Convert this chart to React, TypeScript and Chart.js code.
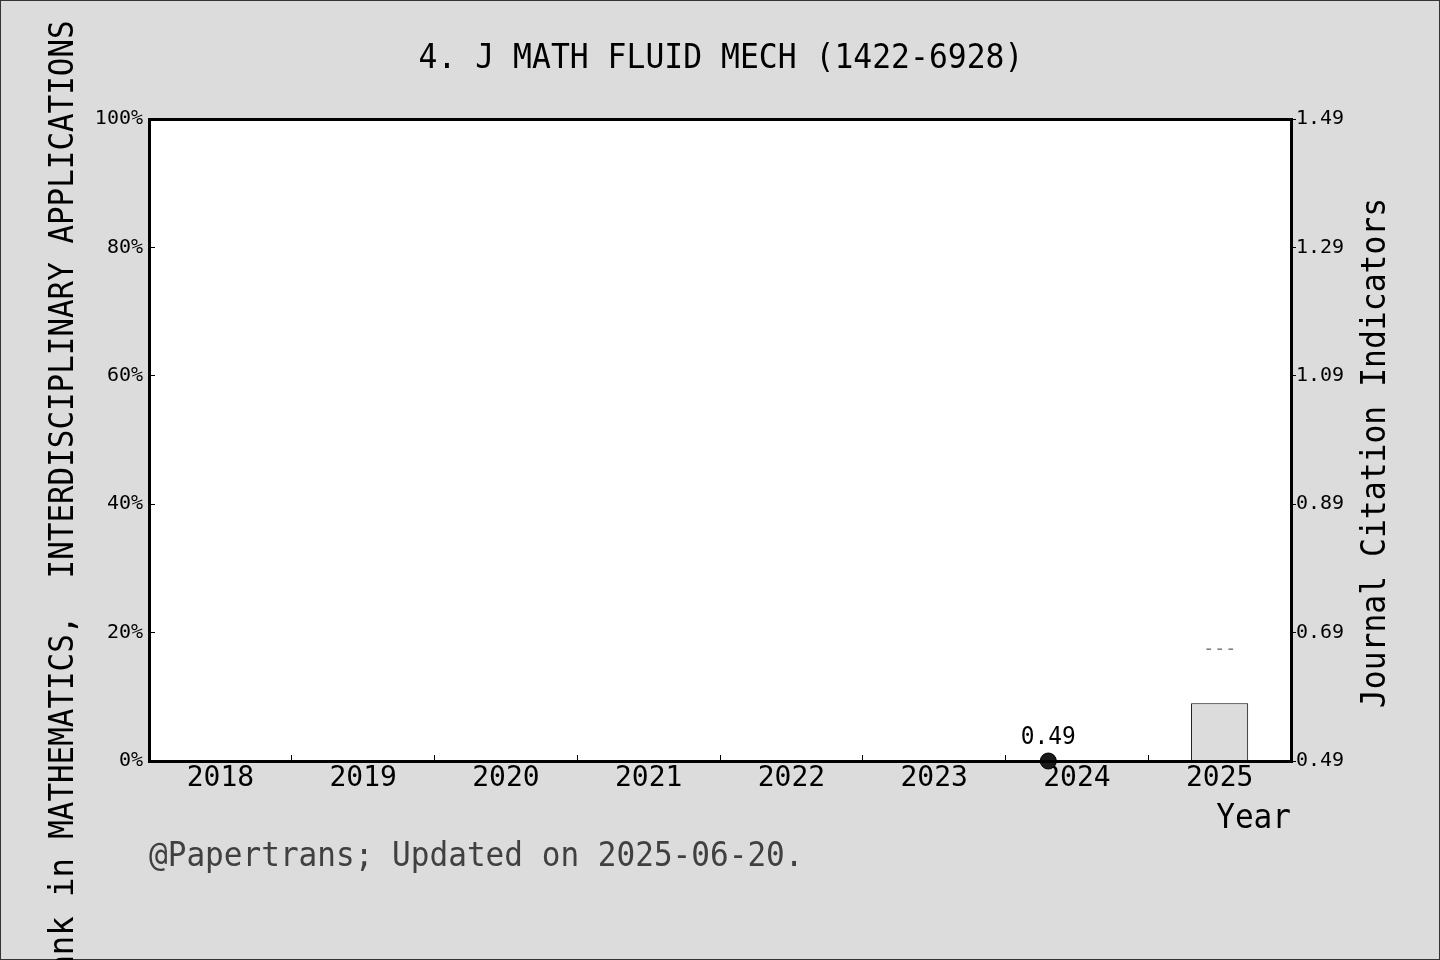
import React, { useEffect, useRef } from 'react';
import { Chart, registerables } from 'chart.js';

Chart.register(...registerables);

// ---- data ----
const years = ['2018', '2019', '2020', '2021', '2022', '2023', '2024', '2025'];
const rankPercent: (number | null)[] = [null, null, null, null, null, null, null, 9];
const rankLabels = ['', '', '', '', '', '', '', '---'];
const jciValues: (number | null)[] = [null, null, null, null, null, null, 0.49, null];
const leftTicks = [0, 20, 40, 60, 80, 100];
const rightTicks = [0.49, 0.69, 0.89, 1.09, 1.29, 1.49];

const titleText = '4. J MATH FLUID MECH (1422-6928)';
const leftAxisTitleStart = 'Rank in ';
const leftAxisTitleRest = 'MATHEMATICS,  INTERDISCIPLINARY APPLICATIONS (JCI)';
const rightAxisTitle = 'Journal Citation Indicators';
const xAxisTitle = 'Year';
const footerText = '@Papertrans; Updated on 2025-06-20.';

const MONO = '"DejaVu Sans Mono", "Liberation Mono", monospace';
const JCI_OFFSET = -0.2;

function monoText(
  ctx: CanvasRenderingContext2D,
  text: string,
  x: number,
  y: number,
  size: number,
  pitch: number,
  align: CanvasTextAlign,
  color: string,
  angle = 0
) {
  ctx.save();
  ctx.font = `${size}px ${MONO}`;
  const natural = ctx.measureText(text).width || 1;
  const k = (pitch * text.length) / natural;
  ctx.translate(x, y);
  if (angle) ctx.rotate(angle);
  ctx.scale(k, 1);
  ctx.textAlign = align;
  ctx.textBaseline = 'alphabetic';
  ctx.fillStyle = color;
  ctx.fillText(text, 0, 0);
  ctx.restore();
}

const decorPlugin = {
  id: 'decor',
  beforeDraw(chart: any) {
    const { ctx, chartArea: a, width, height } = chart;
    ctx.save();
    ctx.fillStyle = '#dcdcdc';
    ctx.fillRect(0, 0, width, height);
    ctx.fillStyle = '#ffffff';
    ctx.fillRect(a.left, a.top, a.right - a.left, a.bottom - a.top);
    ctx.strokeStyle = '#333333';
    ctx.lineWidth = 1;
    ctx.strokeRect(0.5, 0.5, width - 1, height - 1);
    ctx.restore();

    // title
    monoText(ctx, titleText, 721, 68, 34, 18.9, 'center', '#000000');
    // left axis title (clipped by canvas edges as in the reference)
    const startLen = leftAxisTitleStart.length;
    const startPitch = 19.4;
    const startY = 994;
    monoText(ctx, leftAxisTitleStart, 73, startY, 33, startPitch, 'left', '#000000', -Math.PI / 2);
    monoText(ctx, leftAxisTitleRest, 73, startY - startLen * startPitch, 33, 18.6, 'left', '#000000', -Math.PI / 2);
    // right axis title
    monoText(ctx, rightAxisTitle, 1385, 453, 33, 18.9, 'center', '#000000', -Math.PI / 2);
    // x axis title
    monoText(ctx, xAxisTitle, a.right, 828, 33, 18.7, 'right', '#000000');
    // footer
    monoText(ctx, footerText, 149, 866, 33, 18.7, 'left', '#404040');
  },
  afterDatasetsDraw(chart: any) {
    const { ctx, chartArea: a } = chart;
    ctx.save();
    ctx.strokeStyle = '#000000';
    ctx.lineWidth = 3;
    ctx.strokeRect(a.left + 0.5, a.top + 0.5, a.right - a.left, a.bottom - a.top);
    ctx.restore();

    // bar labels
    const barMeta = chart.getDatasetMeta(0);
    rankPercent.forEach((v, i) => {
      const el = barMeta.data[i];
      if (v === null || !el || !rankLabels[i]) return;
      monoText(ctx, rankLabels[i], el.x, el.y - 48, 19, 11, 'center', '#808080');
    });

    // JCI labels
    const lineMeta = chart.getDatasetMeta(1);
    const pts = chart.data.datasets[1].data as any[];
    pts.forEach((p, j) => {
      const el = lineMeta.data[j];
      if (!el) return;
      monoText(ctx, Number(p.y).toFixed(2), el.x, el.y - 17, 24, 13.75, 'center', '#000000');
    });
  },
};

export default function App() {
  const ref = useRef<HTMLCanvasElement>(null);

  useEffect(() => {
    document.body.style.margin = '0';
    const jciPoints = jciValues
      .map((v, i) => ({ x: i + JCI_OFFSET, y: v }))
      .filter((p) => p.y !== null);

    const chart = new Chart(ref.current as HTMLCanvasElement, {
      type: 'bar',
      data: {
        labels: years,
        datasets: [
          {
            type: 'bar',
            label: 'Rank',
            data: rankPercent as any,
            xAxisID: 'x',
            yAxisID: 'y',
            backgroundColor: '#dcdcdc',
            borderColor: '#000000',
            borderWidth: 1,
            grouped: false,
            categoryPercentage: 1,
            barPercentage: 0.4,
          },
          {
            type: 'line',
            label: 'JCI',
            data: jciPoints as any,
            xAxisID: 'xl',
            yAxisID: 'yR',
            borderColor: '#000000',
            borderWidth: 2,
            pointRadius: 8,
            pointBackgroundColor: '#1a1a1a',
            pointBorderColor: '#000000',
            pointBorderWidth: 1,
            clip: false as any,
          },
        ],
      },
      options: {
        animation: false,
        responsive: false,
        devicePixelRatio: 1,
        layout: { padding: { top: 119, left: 0, right: 0, bottom: 0 } },
        plugins: {
          legend: { display: false },
          title: { display: false },
          tooltip: { enabled: false },
        },
        scales: {
          x: {
            type: 'category',
            position: 'bottom',
            offset: true,
            grid: {
              offset: true,
              drawOnChartArea: false,
              drawTicks: true,
              tickLength: -6,
              color: '#000000',
              lineWidth: 1,
            },
            border: { display: false },
            ticks: {
              color: '#000000',
              font: { family: MONO, size: 28 },
              padding: 7,
              maxRotation: 0,
              autoSkip: false,
            },
            afterFit(s: any) {
              s.height = 199;
            },
          },
          xl: {
            type: 'linear',
            position: 'bottom',
            display: false,
            offset: false,
            min: -0.5,
            max: years.length - 0.5,
          },
          y: {
            type: 'linear',
            position: 'left',
            min: 0,
            max: 100,
            beginAtZero: false,
            grid: {
              drawOnChartArea: false,
              drawTicks: true,
              tickLength: -6,
              color: '#000000',
              lineWidth: 1,
            },
            border: { display: false },
            ticks: {
              color: '#000000',
              font: { family: MONO, size: 20 },
              padding: 12,
              callback: (v: any) => `${v}%`,
            },
            afterBuildTicks(s: any) {
              s.ticks = leftTicks.map((v) => ({ value: v }));
            },
            afterFit(s: any) {
              s.width = 149;
            },
          },
          yR: {
            type: 'linear',
            position: 'right',
            min: rightTicks[0],
            max: rightTicks[rightTicks.length - 1],
            beginAtZero: false,
            grid: {
              drawOnChartArea: false,
              drawTicks: true,
              tickLength: 5,
              color: '#000000',
              lineWidth: 1,
            },
            border: { display: false },
            ticks: {
              color: '#000000',
              font: { family: MONO, size: 20 },
              padding: 0,
              callback: (v: any) => Number(v).toFixed(2),
            },
            afterBuildTicks(s: any) {
              s.ticks = rightTicks.map((v) => ({ value: v }));
            },
            afterFit(s: any) {
              s.width = 149;
            },
          },
        } as any,
      },
      plugins: [decorPlugin],
    });

    return () => chart.destroy();
  }, []);

  return (
    <div style={{ position: 'absolute', left: 0, top: 0, width: 1440, height: 960 }}>
      <canvas ref={ref} width={1440} height={960} style={{ display: 'block', width: 1440, height: 960 }} />
    </div>
  );
}
